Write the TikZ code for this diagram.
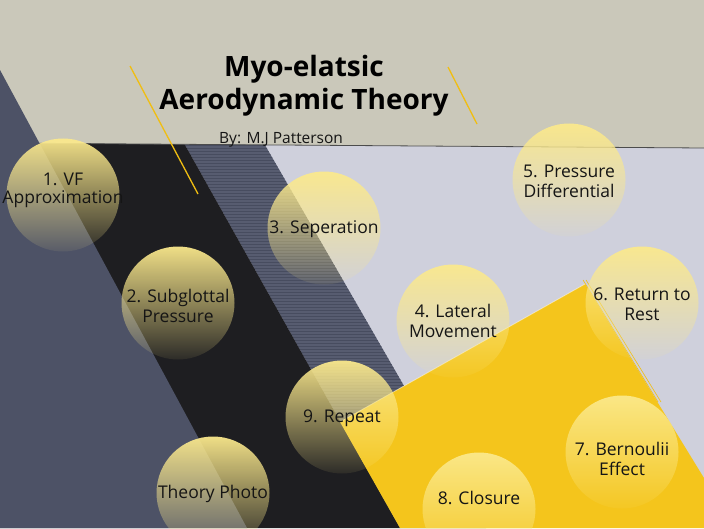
\documentclass[tikz,border=0pt]{standalone}
\usepackage{fontspec}
\setmainfont{Open Sans}
\usetikzlibrary{fadings}
\definecolor{beige}{HTML}{CAC8BA}
\definecolor{lavender}{HTML}{CFD0DC}
\definecolor{slate}{HTML}{4D5266}
\definecolor{blackpaper}{HTML}{1E1E21}
\definecolor{stripecol}{HTML}{575C70}
\definecolor{stripeline}{HTML}{474C5F}
\definecolor{yellowpaper}{HTML}{F4C51C}
\definecolor{goldline}{HTML}{F0BE12}
\definecolor{bubblecol}{HTML}{FBE98C}
\definecolor{txt}{HTML}{151515}
\tikzfading[name=circfade, top color=transparent!5, middle color=transparent!42, bottom color=transparent!93]
\begin{document}
\begin{tikzpicture}[x=1pt,y=-1pt,
  bubble/.style={fill=bubblecol, path fading=circfade},
  lbl/.style={align=center, font=\fontsize{17.5}{20}\selectfont, text=txt, inner sep=0pt},
  ttl/.style={align=center, font=\fontsize{28}{33}\bfseries, text=black, inner sep=0pt},
  accent/.style={draw=goldline, line width=1.3pt}]
\useasboundingbox (0,0) rectangle (704,528);
% papers
\fill[lavender] (0,0) rectangle (704,528);
\fill[stripecol] (176.6,130) -- (400,528) -- (486,528) -- (256.3,130) -- cycle;
\begin{scope}
  \clip (176.6,130) -- (400,528) -- (486,528) -- (256.3,130) -- cycle;
  \foreach \yy in {130,133,...,528} {\draw[stripeline, line width=0.6pt] (170,\yy) -- (490,\yy);}
\end{scope}
\fill[blackpaper] (0,130) -- (176.6,130) -- (400,528) -- (0,528) -- cycle;
\fill[yellowpaper] (340,422) -- (585,284) -- (704,478) -- (704,528) -- (400,528) -- cycle;
\draw[white, opacity=0.5, line width=0.8pt] (340,422) -- (585,284);
\draw[goldline, line width=0.6pt] (583,280) -- (658,402);
\draw[goldline, line width=0.6pt] (586,280) -- (661,402);
\fill[beige] (0,0) -- (704,0) -- (704,148) -- (0,143) -- cycle;
\draw[black!70, line width=0.8pt] (0,143) -- (704,148);
\fill[slate] (0,70) -- (247,528) -- (0,528) -- cycle;
% accent lines
\coordinate (a1) at (130,66); \coordinate (a2) at (198,194);
\coordinate (b1) at (448,67); \coordinate (b2) at (477,124);
\draw[accent] (a1) -- (a2);
\draw[accent] (b1) -- (b2);
% title
\node[ttl] (title) at (304,86) {Myo-elatsic\\Aerodynamic Theory};
\node[anchor=west, font=\fontsize{15.5}{17}\selectfont, text=txt, inner sep=0pt] (author) at (219,140) {By: M.J Patterson};
% bubbles
\fill[bubble] (63,195) circle (56.5);
\fill[bubble] (178,303) circle (56.5);
\fill[bubble] (324,228) circle (56.5);
\fill[bubble] (453,321) circle (56.5);
\fill[bubble] (569,180) circle (56.5);
\fill[bubble] (642,303) circle (56.5);
\fill[bubble] (622,452) circle (56.5);
\fill[bubble] (479,509) circle (56.5);
\fill[bubble] (342,417) circle (56.5);
\fill[bubble] (213,493) circle (56.5);
% labels
\node[lbl, font=\fontsize{17.5}{18}\selectfont] (t1) at (63,190) {1. VF\\Approximation};
\node[lbl] (t2) at (178,306) {2. Subglottal\\Pressure};
\node[lbl] (t3) at (324,229) {3. Seperation};
\node[lbl] (t4) at (453,321) {4. Lateral\\Movement};
\node[lbl] (t5) at (569,181) {5. Pressure\\Differential};
\node[lbl] (t6) at (642,304) {6. Return to\\Rest};
\node[lbl] (t7) at (622,459) {7. Bernoulii\\Effect};
\node[lbl] (t8) at (479,498) {8. Closure};
\node[lbl] (t9) at (342,418) {9. Repeat};
\node[lbl] (tp) at (213,494) {Theory Photo};
\end{tikzpicture}
\end{document}
